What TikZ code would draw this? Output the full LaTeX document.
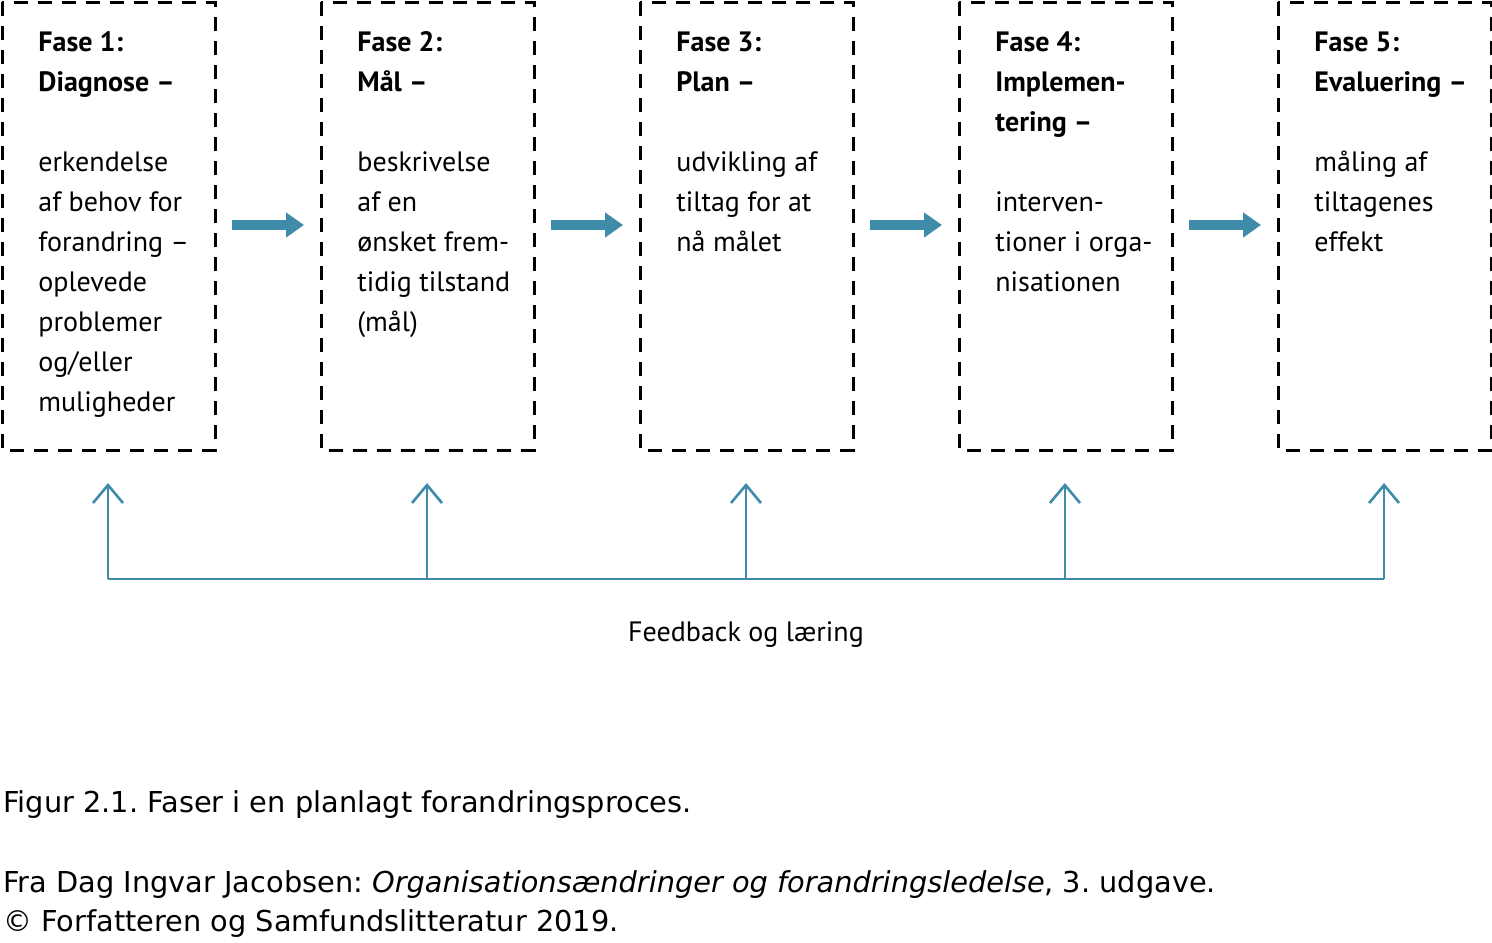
\documentclass[tikz,border=0pt]{standalone}
\usepackage{fontspec}
\setmainfont{PT Sans}
\newfontfamily\capfont{DejaVu Sans}
\usetikzlibrary{arrows.meta}
\definecolor{fbblue}{HTML}{3F8BAA}
\frenchspacing
\begin{document}
\begin{tikzpicture}[x=0.5pt,y=-0.5pt,
  fase/.style={draw, line width=1.5pt, dash pattern=on 7pt off 5pt},
  tekst/.style={anchor=north west, inner sep=0pt, align=left,
    font=\fontsize{14}{20}\selectfont},
  pil/.style={fbblue, line width=5pt, -{Triangle[length=9pt,width=12pt]}},
  fb/.style={fbblue, line width=1.3pt},
  fbpil/.style={fb, -{Straight Barb[length=9pt,width=15pt,line width=1.3pt]}},
  undertekst/.style={anchor=base west, inner sep=0pt, font=\capfont\fontsize{14.4}{16}\selectfont}]
\useasboundingbox (0,0) rectangle (1492,942);
%%% Faser
\foreach \i/\x in {1/2,2/321,3/640,4/959,5/1278}{
  \draw[fase] (\x,2) rectangle ++(213,448);
  \coordinate (b\i) at (\x+106,483);
  \coordinate (f\i) at (\x+106,579);
}
\node[tekst] (t1) at (38,31) {\textbf{Fase 1:}\\\textbf{Diagnose –}\\[20pt]erkendelse\\af behov for\\forandring –\\oplevede\\problemer\\og/eller\\muligheder};
\node[tekst] (t2) at (357,31) {\textbf{Fase 2:}\\\textbf{Mål –}\\[20pt]beskrivelse\\af en\\ønsket frem-\\tidig tilstand\\(mål)};
\node[tekst] (t3) at (676,31) {\textbf{Fase 3:}\\\textbf{Plan –}\\[20pt]udvikling af\\tiltag for at\\nå målet};
\node[tekst] (t4) at (995,31) {\textbf{Fase 4:}\\\textbf{Implemen-}\\\textbf{tering –}\\[20pt]interven-\\tioner i orga-\\nisationen};
\node[tekst] (t5) at (1314,31) {\textbf{Fase 5:}\\\textbf{Evaluering –}\\[20pt]måling af\\tiltagenes\\effekt};
%%% Pile mellem faser
\foreach \x in {232,551,870,1189}
  \draw[pil] (\x,225) -- (\x+72,225);
%%% Feedback
\draw[fb] (f1) -- (f5);
\foreach \i in {1,...,5}
  \draw[fbpil] (f\i) -- (b\i);
\node[font=\fontsize{14}{20}\selectfont] (fbtekst) at (746,635) {Feedback og læring};
%%% Tekst under figuren
\node[undertekst] (fig) at (3,812) {Figur 2.1. Faser i en planlagt forandringsproces.};
\node[undertekst] (kilde) at (3,892) {Fra Dag Ingvar Jacobsen: \textit{Organisationsændringer og forandringsledelse}, 3. udgave.};
\node[undertekst] (copy) at (3,931) {© Forfatteren og Samfundslitteratur 2019.};
\end{tikzpicture}
\end{document}
